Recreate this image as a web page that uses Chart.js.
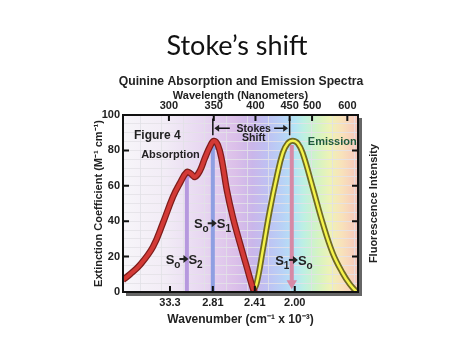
<!DOCTYPE html>
<html>
<head>
<meta charset="utf-8">
<script src="https://cdn.jsdelivr.net/npm/chart.js@4.4.1/dist/chart.umd.min.js"></script>
<style>
  html, body { margin: 0; padding: 0; background: #fff; }
</style>
</head>
<body>
<canvas id="spectraChart" width="474" height="355"></canvas>
<script>
// x values are wavenumbers (cm^-1 x 10^-3), axis runs high -> low
const absWave  = [37.6, 36.94, 36.01, 34.8, 33.86, 32.93, 32.27, 31.62, 31.24, 30.87, 30.4, 29.94, 29.47, 29.09, 28.72, 28.35, 27.88, 27.32, 26.66, 26.01, 25.45, 25.26];
const absValue = [6.8, 10, 15.3, 25.4, 39, 53.7, 61.5, 67.8, 66.8, 65, 68.5, 75.5, 82, 85.3, 83, 74.5, 57.6, 42.4, 27.7, 14, 2.3, 0];

const emWave  = [25.45, 25.08, 24.51, 23.86, 23.21, 22.65, 22.18, 21.71, 21.24, 20.78, 19.84, 18.91, 17.97, 17.04, 16.38, 15.73];
const emValue = [0, 5, 23.7, 46, 65, 78.5, 84, 85.5, 84, 78.5, 59, 39, 22, 10.7, 4.5, 0];

// transition arrows: S0->S2, S0->S1, S1->S0
const arrowWave = [31.62, 29.19, 21.8];
const arrowFrom = [0, 0, 83];
const arrowTo   = [66, 82, 5];

const bottomTickPos    = [33.2, 29.19, 25.26, 21.52];
const bottomTickLabels = ['33.3', '2.81', '2.41', '2.00'];
const topTickPos       = [33.3, 29.1, 25.2, 22.0, 19.9, 16.6];
const topTickLabels    = ['300', '350', '400', '450', '500', '600'];
const yTicks = [0, 20, 40, 60, 80, 100];

const FONT = '"Liberation Sans", Arial, sans-serif';

function toPoints(xs, ys) {
    return xs.map((x, i) => ({ x: x, y: ys[i] }));
}

// rainbow background + frame + annotations
const decorPlugin = {
    id: 'decor',
    beforeDatasetsDraw(chart) {
        const { ctx, chartArea: a, scales } = chart;
        ctx.save();
        // vertical grid
        ctx.strokeStyle = 'rgba(225,225,230,0.8)';
        ctx.lineWidth = 1;
        for (let v = 16; v <= 37; v += 2) {
            const px = Math.round(scales.x.getPixelForValue(v)) + 0.5;
            ctx.beginPath();
            ctx.moveTo(px, a.top);
            ctx.lineTo(px, a.bottom);
            ctx.stroke();
        }
        ctx.restore();
    },
    beforeDraw(chart) {
        const { ctx, chartArea: a } = chart;
        ctx.save();
        const g = ctx.createLinearGradient(a.left, 0, a.right, 0);
        g.addColorStop(0.00, '#f7f5f9');
        g.addColorStop(0.18, '#f2ecf6');
        g.addColorStop(0.33, '#e8d8f1');
        g.addColorStop(0.48, '#dbbfe9');
        g.addColorStop(0.55, '#cab6ea');
        g.addColorStop(0.61, '#bfc0f2');
        g.addColorStop(0.68, '#b8d2f6');
        g.addColorStop(0.73, '#b4e4f5');
        g.addColorStop(0.77, '#bdf0e2');
        g.addColorStop(0.83, '#d5f3c2');
        g.addColorStop(0.88, '#eef3b6');
        g.addColorStop(0.93, '#f8e2ba');
        g.addColorStop(1.00, '#f7c6bd');
        ctx.fillStyle = g;
        ctx.fillRect(a.left, a.top, a.right - a.left, a.bottom - a.top);

        // page titles
        ctx.fillStyle = '#111';
        ctx.textAlign = 'center';
        ctx.textBaseline = 'alphabetic';
        ctx.font = '27px Lato, "Open Sans", sans-serif';
        ctx.fillText('Stoke\u2019s shift', 237, 55);
        ctx.fillStyle = '#222';
        ctx.font = 'bold 12.2px ' + FONT;
        ctx.fillText('Quinine Absorption and Emission Spectra', 241, 85);
        ctx.restore();
    },
    afterDraw(chart) {
        const { ctx, chartArea: a, scales } = chart;
        const X = v => scales.x.getPixelForValue(v);
        const Y = v => scales.y.getPixelForValue(v);
        ctx.save();

        // frame with shadow
        ctx.fillStyle = '#666';
        ctx.fillRect(a.right + 1, a.top + 3, 3, a.bottom - a.top + 1);
        ctx.fillRect(a.left + 3, a.bottom + 1, a.right - a.left + 1, 3);
        ctx.strokeStyle = '#111';
        ctx.lineWidth = 2;
        ctx.strokeRect(a.left, a.top, a.right - a.left, a.bottom - a.top);

        // inward tick marks
        ctx.lineWidth = 2;
        ctx.beginPath();
        bottomTickPos.forEach(v => { ctx.moveTo(X(v), a.bottom); ctx.lineTo(X(v), a.bottom - 6); });
        topTickPos.forEach(v => { ctx.moveTo(X(v), a.top); ctx.lineTo(X(v), a.top + 6); });
        yTicks.forEach(v => {
            ctx.moveTo(a.left, Y(v)); ctx.lineTo(a.left + 6, Y(v));
            ctx.moveTo(a.right, Y(v)); ctx.lineTo(a.right - 6, Y(v));
        });
        ctx.stroke();

        // right axis title, reading bottom to top
        ctx.save();
        ctx.translate(a.right + 16, (a.top + a.bottom) / 2);
        ctx.rotate(-Math.PI / 2);
        ctx.fillStyle = '#222';
        ctx.textAlign = 'center';
        ctx.textBaseline = 'middle';
        ctx.font = 'bold 11px ' + FONT;
        ctx.fillText('Fluorescence Intensity', 0, 0);
        ctx.restore();

        // text labels
        ctx.fillStyle = '#222';
        ctx.textBaseline = 'alphabetic';
        ctx.textAlign = 'left';
        ctx.font = 'bold 12px ' + FONT;
        ctx.fillText('Figure 4', X(36.57), Y(86.4));
        ctx.font = 'bold 11px ' + FONT;
        ctx.fillText('Absorption', X(35.9), Y(75.7));
        ctx.fillStyle = '#1f5a3c';
        ctx.fillText('Emission', X(20.3), Y(83));

        // Stokes shift bracket
        ctx.fillStyle = '#222';
        ctx.textAlign = 'center';
        ctx.font = 'bold 10.5px ' + FONT;
        ctx.fillText('Stokes', X(25.36), Y(90.4));
        ctx.fillText('Shift', X(25.36), Y(85.3));
        ctx.strokeStyle = '#111';
        ctx.lineWidth = 1.5;
        const yb = Y(92.5);
        ctx.beginPath();
        [29.19, 22.0].forEach(v => { ctx.moveTo(X(v), Y(98)); ctx.lineTo(X(v), Y(88.5)); });
        ctx.moveTo(X(27.6), yb); ctx.lineTo(X(28.9), yb);
        ctx.moveTo(X(23.45), yb); ctx.lineTo(X(22.3), yb);
        ctx.stroke();
        ctx.beginPath();
        ctx.moveTo(X(29.05), yb); ctx.lineTo(X(28.6), yb - 3.5); ctx.lineTo(X(28.6), yb + 3.5); ctx.closePath();
        ctx.moveTo(X(22.15), yb); ctx.lineTo(X(22.6), yb - 3.5); ctx.lineTo(X(22.6), yb + 3.5); ctx.closePath();
        ctx.fill();

        // transition labels
        function transition(x, y, a1, b1) {
            ctx.textAlign = 'left';
            ctx.font = 'bold 13px ' + FONT;
            const wS = ctx.measureText('S').width;
            ctx.font = 'bold 10px ' + FONT;
            const wSub = ctx.measureText('o').width;
            const total = wS * 2 + wSub * 2 + 8;
            let cx = x - total / 2;
            ctx.fillStyle = '#222';
            ctx.font = 'bold 13px ' + FONT;
            ctx.fillText('S', cx, y); cx += wS;
            ctx.font = 'bold 10px ' + FONT;
            ctx.fillText(a1, cx, y + 4); cx += wSub - 1;
            // small arrow
            ctx.strokeStyle = '#222';
            ctx.lineWidth = 2;
            ctx.beginPath();
            ctx.moveTo(cx, y - 5); ctx.lineTo(cx + 6, y - 5);
            ctx.stroke();
            ctx.beginPath();
            ctx.moveTo(cx + 9, y - 5); ctx.lineTo(cx + 4, y - 9); ctx.lineTo(cx + 4, y - 1); ctx.closePath();
            ctx.fill();
            cx += 9;
            ctx.font = 'bold 13px ' + FONT;
            ctx.fillText('S', cx, y); cx += wS;
            ctx.font = 'bold 10px ' + FONT;
            ctx.fillText(b1, cx, y + 4);
        }
        transition(X(29.2), Y(36), 'o', '1');
        transition(X(31.85), Y(15.8), 'o', '2');
        transition(X(21.6), Y(15.3), '1', 'o');
        ctx.restore();
    }
};

const arrowColors = ['#b698de', '#8e9fe2', '#d68aa6'];
const arrowSets = arrowWave.map((w, i) => ({
    data: [{ x: w, y: arrowFrom[i] }, { x: w, y: arrowTo[i] }],
    borderColor: arrowColors[i],
    backgroundColor: arrowColors[i],
    borderWidth: 4,
    pointStyle: 'triangle',
    pointRadius: [0, 6],
    pointRotation: arrowTo[i] > arrowFrom[i] ? 0 : 180,
    pointBorderWidth: 0,
    order: 5
}));

const ctx = document.getElementById('spectraChart').getContext('2d');
const spectraChart = new Chart(ctx, {
    type: 'line',
    data: {
        datasets: [
            {
                label: 'Absorption',
                data: toPoints(absWave, absValue),
                borderColor: '#d33a36',
                borderWidth: 4,
                pointRadius: 0,
                tension: 0.4,
                order: 0
            },
            {
                label: 'Absorption outline',
                data: toPoints(absWave, absValue),
                borderColor: '#7e1c1a',
                borderWidth: 6.5,
                pointRadius: 0,
                tension: 0.4,
                order: 1
            },
            {
                label: 'Emission',
                data: toPoints(emWave, emValue),
                borderColor: '#f4f24a',
                borderWidth: 2.5,
                pointRadius: 0,
                tension: 0.4,
                order: 2
            },
            {
                label: 'Emission outline',
                data: toPoints(emWave, emValue),
                borderColor: '#6f6a22',
                borderWidth: 6,
                pointRadius: 0,
                tension: 0.4,
                order: 3
            },
            ...arrowSets
        ]
    },
    options: {
        responsive: false,
        animation: false,
        layout: {
            padding: { top: 89, left: 90, right: 94, bottom: 28 }
        },
        plugins: {
            legend: { display: false },
            tooltip: { enabled: false }
        },
        scales: {
            x: {
                type: 'linear',
                position: 'bottom',
                reverse: true,
                min: 15.6,
                max: 37.6,
                afterBuildTicks: s => { s.ticks = bottomTickPos.map(v => ({ value: v })); },
                afterFit: s => { s.height = 35; },
                ticks: {
                    callback: (v, i) => bottomTickLabels[i],
                    autoSkip: false,
                    maxRotation: 0,
                    padding: 4,
                    color: '#222',
                    font: { family: FONT, size: 11, weight: 'bold' }
                },
                grid: { display: false, drawTicks: false },
                border: { display: false },
                title: {
                    display: true,
                    text: 'Wavenumber (cm\u207B\u00B9 x 10\u207B\u00B3)',
                    color: '#222',
                    padding: { top: 1, bottom: 0 },
                    font: { family: FONT, size: 12, weight: 'bold' }
                }
            },
            xTop: {
                type: 'linear',
                position: 'top',
                reverse: true,
                min: 15.6,
                max: 37.6,
                afterBuildTicks: s => { s.ticks = topTickPos.map(v => ({ value: v })); },
                afterFit: s => { s.height = 26; },
                ticks: {
                    callback: (v, i) => topTickLabels[i],
                    autoSkip: false,
                    maxRotation: 0,
                    padding: 2,
                    color: '#222',
                    font: { family: FONT, size: 11, weight: 'bold' }
                },
                grid: { display: false, drawTicks: false },
                border: { display: false },
                title: {
                    display: true,
                    text: 'Wavelength (Nanometers)',
                    color: '#222',
                    padding: { top: 0, bottom: 1 },
                    font: { family: FONT, size: 11, weight: 'bold' }
                }
            },
            y: {
                min: 0,
                max: 100,
                afterBuildTicks: s => { s.ticks = [0,5,10,15,20,25,30,35,40,45,50,55,60,65,70,75,80,85,90,95,100].map(v => ({ value: v })); },
                afterFit: s => { s.width = 33; },
                ticks: {
                    callback: v => (v % 20 === 0 ? String(v) : ''),
                    autoSkip: false,
                    padding: 3,
                    color: '#222',
                    font: { family: FONT, size: 11, weight: 'bold' }
                },
                grid: { color: 'rgba(228,226,232,0.85)', drawTicks: false },
                border: { display: false },
                title: {
                    display: true,
                    text: 'Extinction Coefficient (M\u207B\u00B9 cm\u207B\u00B9)',
                    color: '#222',
                    padding: { top: 2, bottom: 0 },
                    font: { family: FONT, size: 11, weight: 'bold' }
                }
            },
            yRight: {
                position: 'right',
                min: 0,
                max: 100,
                afterFit: s => { s.width = 22; },
                ticks: { display: false },
                grid: { display: false, drawTicks: false },
                border: { display: false },
                title: { display: false }
            }
        }
    },
    plugins: [decorPlugin]
});
</script>
</body>
</html>
